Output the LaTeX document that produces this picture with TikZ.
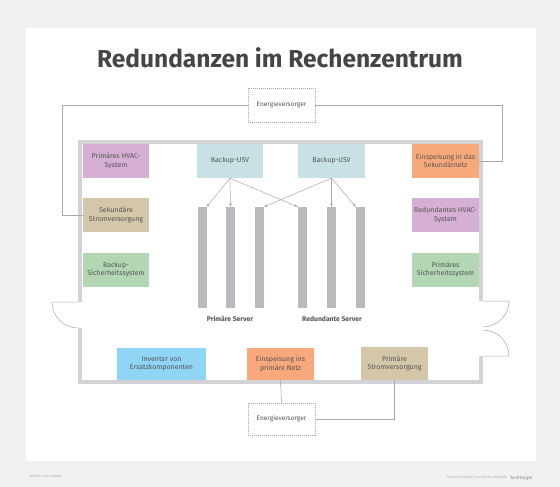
\documentclass[tikz,border=0pt]{standalone}
\usepackage{fontspec}
\setmainfont{Fira Sans}
\usetikzlibrary{arrows.meta}
\definecolor{bgc}{HTML}{F1F1F1}
\definecolor{txt}{HTML}{555555}
\definecolor{ttl}{HTML}{454545}
\definecolor{wallc}{HTML}{D3D3D7}
\definecolor{linec}{HTML}{A8A8A8}
\definecolor{purp}{HTML}{D5AFD6}
\definecolor{tan}{HTML}{D4C6A9}
\definecolor{grn}{HTML}{B3D7B3}
\definecolor{usvc}{HTML}{C7E1E5}
\definecolor{orng}{HTML}{F8A97B}
\definecolor{skyc}{HTML}{90D4F6}
\definecolor{barc}{HTML}{B9BABE}
\tikzset{
  box/.style={minimum width=66pt, minimum height=34pt, inner sep=1pt, align=center,
    font=\fontsize{7}{8.6}\selectfont, text=txt},
  bar/.style={fill=barc, minimum width=9pt, minimum height=101pt, inner sep=0pt},
  evbox/.style={draw=linec, dash pattern=on 1pt off 1pt, line width=0.6pt, fill=white,
    minimum width=67pt, inner sep=1pt, font=\fontsize{6.5}{8}\selectfont, text=txt},
  conn/.style={draw=linec, line width=0.6pt},
  arr/.style={draw=linec, line width=0.5pt, -{Stealth[length=3.5pt,width=2.6pt]}},
  wall/.style={draw=wallc, line width=4pt, line join=miter},
  door/.style={draw=linec, line width=0.5pt},
  lbl/.style={font=\fontsize{6.8}{8}\selectfont\bfseries, text=txt},
}
\begin{document}
\begin{tikzpicture}[x=1pt,y=-1pt]
\useasboundingbox (0,0) rectangle (560,487);
\fill[bgc] (0,0) rectangle (560,487);
\fill[white] (26,28) rectangle (536,461);

\node[font=\fontsize{24.5}{28}\selectfont\bfseries, text=ttl] (title) at (280,58) {Redundanzen im Rechenzentrum};

% walls
\draw[wall] (80,302) -- (80,142) -- (481,142) -- (481,301);
\draw[wall] (481,356) -- (481,382) -- (80,382) -- (80,328);

% doors
\draw[door] (78,302) -- (52,302) arc[start angle=180, end angle=90, radius=26];
\draw[door] (483,301) -- (509,301) arc[start angle=0, end angle=90, radius=26];
\draw[door] (483,356) -- (509,356) arc[start angle=0, end angle=-90, radius=26];

% boxes
\node[box, fill=purp] (hvac1) at (116,161) {Primäres HVAC-\\System};
\node[box, fill=tan] (sek) at (116,215) {Sekundäre\\Stromversorgung};
\node[box, fill=grn] (bsich) at (116,269.5) {Backup-\\Sicherheitssystem};
\node[box, fill=usvc] (usv1) at (230,161) {Backup-USV};
\node[box, fill=usvc, minimum width=67pt] (usv2) at (331.5,161) {Backup-USV};
\node[box, fill=orng, minimum width=67pt] (eins) at (445.5,161) {Einspeisung in das\\Sekundärnetz};
\node[box, fill=purp, minimum width=67pt] (rhvac) at (445.5,215) {Redundantes HVAC-\\System};
\node[box, fill=grn, minimum width=67pt] (psich) at (445.5,269.5) {Primäres\\Sicherheitssystem};
\node[box, fill=skyc, minimum width=89pt, minimum height=32pt] (inv) at (161.5,364) {Inventar von\\Ersatzkomponenten};
\node[box, fill=orng, minimum width=67pt, minimum height=32pt] (einsP) at (280.5,364) {Einspeisung ins\\primäre Netz};
\node[box, fill=tan, minimum width=67pt, minimum height=33pt] (primS) at (394.5,363.5) {Primäre\\Stromversorgung};

% servers
\node[bar] (s1) at (202,257.5) {};
\node[bar] (s2) at (230.5,257.5) {};
\node[bar] (s3) at (259.5,257.5) {};
\node[bar] (s4) at (302.5,257.5) {};
\node[bar] (s5) at (331.5,257.5) {};
\node[bar] (s6) at (360.5,257.5) {};
\node[lbl] (lp) at (230,319) {Primäre Server};
\node[lbl] (lr) at (332,319) {Redundante Server};

\draw[arr] (usv1.south) -- (s1.north east);
\draw[arr] (usv1.south) -- (s2.north);
\draw[arr] (usv1.south) -- (s4.north west);
\draw[arr] (usv2.south) -- (s3.north east);
\draw[arr] (usv2.south) -- (s5.north);
\draw[arr] (usv2.south) -- (s6.north west);

% utility providers
\node[evbox, minimum height=34pt] (ev1) at (281.5,105) {Energieversorger};
\node[evbox, minimum height=32pt] (ev2) at (281.5,419) {Energieversorger};
\coordinate (cL) at (62,105);
\coordinate (cR) at (502,105);
\draw[conn] (ev1.west) -- (cL) |- (sek.west);
\draw[conn] (ev1.east) -- (cR) |- (eins.east);
\draw[conn] (ev2.north) -- (einsP.south);
\draw[conn] (ev2.east) -| (primS.south);

% footer
\node[anchor=west, font=\fontsize{3.2}{4}\selectfont, text=linec] (src) at (26,476) {SOURCE: PAUL KIRVAN};
\node[anchor=east, font=\fontsize{3.2}{4}\selectfont, text=linec] (copy) at (511,477) {©2022 TECHTARGET. ALL RIGHTS RESERVED};
\node[anchor=east, font=\fontsize{4.5}{5}\selectfont\bfseries, text=linec] (logo) at (536,478) {TechTarget};
\end{tikzpicture}
\end{document}
